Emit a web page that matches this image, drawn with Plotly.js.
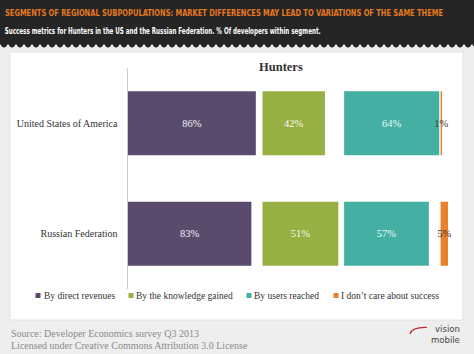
<!DOCTYPE html>
<html>
<head>
<meta charset="utf-8">
<script src="https://cdn.plot.ly/plotly-3.0.1.min.js"></script>
<style>html,body{margin:0;padding:0;background:#eeeeee;}#chart{width:474px;height:354px;}</style>
</head>
<body>
<div id="chart"></div>
<script>
// ---- data ----
const categories = ['United States of America', 'Russian Federation'];
const seriesNames = ['By direct revenues', 'By the knowledge gained', 'By users reached', 'I don\u2019t care about success'];
const directRevenues = [86, 83];
const knowledgeGained = [42, 51];
const usersReached = [64, 57];
const dontCare = [1, 5];
const chartTitle = 'SEGMENTS OF REGIONAL SUBPOPULATIONS: MARKET DIFFERENCES MAY LEAD TO VARIATIONS OF THE SAME THEME';
const chartSubtitle = 'Success metrics for Hunters in the US and the Russian Federation. % Of developers within segment.';
const panelTitle = 'Hunters';
const sourceLine = 'Source: Developer Economics survey Q3 2013';
const licenseLine = 'Licensed under Creative Commons Attribution 3.0 License';

// ---- layout / style ----
const series = [directRevenues, knowledgeGained, usersReached, dontCare];
const colors = ['#5a4b6d', '#97b043', '#43b0a3', '#e8822b'];
const textColors = ['#f3f0f5', '#f6f8ee', '#eefaf8', '#3a3a3a'];
const panelStart = [0, 90.5, 145.4, 210.3]; // panel offsets (% units)
const W0 = 474, H0 = 354;
const L = 128, R = 19, T = 68, B = 65;
const PW = W0 - L - R, PH = H0 - T - B;
const X = p => (p - L) / PW;
const Y = p => 1 - (p - T) / PH;
const serif = 'Liberation Serif, DejaVu Serif, serif';
const narrow = 'DejaVu Sans Condensed, sans-serif';

const traces = series.map((vals, k) => ({
  type: 'bar', orientation: 'h', name: seriesNames[k],
  y: categories, x: vals, base: panelStart[k],
  marker: {color: colors[k], line: {width: 0}},
  text: vals.map(v => v + '%'),
  textposition: 'inside', insidetextanchor: 'middle', textangle: 0,
  constraintext: 'none', cliponaxis: false,
  insidetextfont: {family: serif, size: 10.5, color: textColors[k]},
  showlegend: false, hoverinfo: 'skip'
}));

const shapes = [];
// header band
shapes.push({type: 'rect', xref: 'paper', yref: 'paper', x0: X(0), x1: X(W0), y0: Y(0), y1: Y(44),
  fillcolor: '#252525', line: {width: 0}, layer: 'below'});
// scalloped edge
let d = 'M' + X(0) + ',' + Y(44);
const per = 8;
for (let x = 0; x < W0; x += per) {
  d += ' Q' + X(x + per / 2) + ',' + Y(51) + ' ' + X(x + per) + ',' + Y(44);
}
d += ' Z';
shapes.push({type: 'path', xref: 'paper', yref: 'paper', path: d, fillcolor: '#252525', line: {width: 0}, layer: 'below'});
// white panel
shapes.push({type: 'rect', xref: 'paper', yref: 'paper', x0: X(10), x1: X(463), y0: Y(52), y1: Y(320),
  fillcolor: '#ffffff', line: {color: '#e2e2e2', width: 1}, layer: 'below'});

// legend (squares + labels)
const legSq = [38, 131, 249, 336];
const legTx = [42, 134, 252, 339];
const legY = 296;
const annotations = [];
seriesNames.forEach((n, k) => {
  shapes.push({type: 'rect', xref: 'paper', yref: 'paper', x0: X(legSq[k] - 2.5), x1: X(legSq[k] + 2.5),
    y0: Y(legY - 3), y1: Y(legY + 2), fillcolor: colors[k], line: {width: 0}});
  annotations.push({xref: 'paper', yref: 'paper', x: X(legTx[k]), y: Y(legY), xanchor: 'left', yanchor: 'middle',
    text: n, showarrow: false, font: {family: serif, size: 9.5, color: '#333333'}});
});

// logo swoosh
shapes.push({type: 'path', xref: 'paper', yref: 'paper',
  path: 'M' + X(410) + ',' + Y(334) + ' Q' + X(412) + ',' + Y(327) + ' ' + X(427) + ',' + Y(327.5),
  line: {color: '#c0282d', width: 1.2}});

const titleAnn = {xref: 'paper', yref: 'paper', x: X(224), y: Y(14), xanchor: 'center', yanchor: 'middle',
  text: '<b>' + chartTitle + '</b>', showarrow: false,
  font: {family: narrow, size: 8, color: '#e5791f'}};
const subAnn = {xref: 'paper', yref: 'paper', x: X(162.5), y: Y(31), xanchor: 'center', yanchor: 'middle',
  text: '<b>' + chartSubtitle + '</b>', showarrow: false,
  font: {family: narrow, size: 8.5, color: '#ffffff'}};
annotations.unshift(titleAnn, subAnn);
annotations.push(
  {xref: 'paper', yref: 'paper', x: X(281), y: Y(67), xanchor: 'center', yanchor: 'middle',
   text: '<b>' + panelTitle + '</b>', showarrow: false, font: {family: serif, size: 12.5, color: '#333333'}},
  {xref: 'paper', yref: 'paper', x: X(9), y: Y(333), xanchor: 'left', yanchor: 'middle',
   text: sourceLine, showarrow: false, font: {family: serif, size: 10, color: '#8a8a8a'}},
  {xref: 'paper', yref: 'paper', x: X(9), y: Y(345), xanchor: 'left', yanchor: 'middle',
   text: licenseLine, showarrow: false, font: {family: serif, size: 10, color: '#8a8a8a'}},
  {xref: 'paper', yref: 'paper', x: X(462), y: Y(334), xanchor: 'right', yanchor: 'middle', align: 'right',
   text: 'vision<br>mobile', showarrow: false, font: {family: 'DejaVu Sans', size: 8.5, color: '#444444'}}
);

const layout = {
  width: W0, height: H0,
  margin: {l: L, r: R, t: T, b: B, pad: 0},
  paper_bgcolor: '#eeeeee', plot_bgcolor: 'rgba(0,0,0,0)',
  barmode: 'overlay', bargap: 0.42,
  showlegend: false,
  xaxis: {range: [0, 220], visible: false, fixedrange: true},
  yaxis: {type: 'category', autorange: 'reversed', showline: true, linecolor: '#cccccc', linewidth: 1.5,
    ticks: '', showgrid: false, zeroline: false, ticklabelstandoff: 7,
    tickfont: {family: serif, size: 10, color: '#333333'}, fixedrange: true},
  shapes: shapes,
  annotations: annotations
};

Plotly.newPlot('chart', traces, layout, {displayModeBar: false, staticPlot: true}).then(gd => {
  const fit = [[0, 438], [1, 316]];
  fit.forEach(([i, len]) => {
    const t = gd.querySelector('.annotation[data-index="' + i + '"] text.annotation-text');
    if (t) { t.setAttribute('textLength', len); t.setAttribute('lengthAdjust', 'spacingAndGlyphs'); }
  });
});
</script>
</body>
</html>
